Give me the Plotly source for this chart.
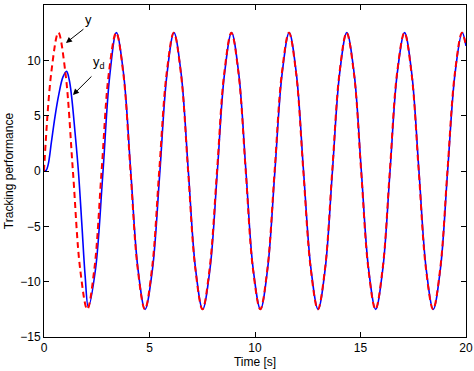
import plotly.graph_objects as go

# Desired trajectory (red dashed)
t_ref = [0.00, 0.34, 0.68, 1.02, 1.37, 1.71, 2.05, 2.39, 2.73, 3.07, 3.42, 3.76,
         4.10, 4.44, 4.78, 5.12, 5.46, 5.81, 6.15, 6.49, 6.83, 7.17, 7.51, 7.85,
         8.20, 8.54, 8.88, 9.22, 9.56, 9.90, 10.25, 10.59, 10.93, 11.27, 11.61, 11.95,
         12.29, 12.64, 12.98, 13.32, 13.66, 14.00, 14.34, 14.69, 15.03, 15.37, 15.71, 16.05,
         16.39, 16.73, 17.08, 17.42, 17.76, 18.10, 18.44, 18.78, 19.12, 19.47, 19.81, 20.00]
y_ref = [0, 8.8, 12.5, 8.8, 0, -8.8, -12.5, -8.8, 0, 8.8, 12.5, 8.8,
         0, -8.8, -12.5, -8.8, 0, 8.8, 12.5, 8.8, 0, -8.8, -12.5, -8.8,
         0, 8.8, 12.5, 8.8, 0, -8.8, -12.5, -8.8, 0, 8.8, 12.5, 8.8,
         0, -8.8, -12.5, -8.8, 0, 8.8, 12.5, 8.8, 0, -8.8, -12.5, -8.8,
         0, 8.8, 12.5, 8.8, 0, -8.8, -12.5, -8.8, 0, 8.8, 12.5, 11.3]

# System output (blue solid)
t_out = [0.00, 0.10, 0.20, 0.35, 0.52, 0.70, 0.90, 1.07, 1.20, 1.31, 1.47, 1.63,
         1.80, 1.95, 2.10, 2.44, 2.78, 3.11, 3.43, 3.77,
         4.11, 4.45, 4.79, 5.14, 5.48, 5.82, 6.16, 6.50, 6.84, 7.18, 7.52, 7.87,
         8.21, 8.55, 8.89, 9.23, 9.57, 9.91, 10.26, 10.60, 10.94, 11.28, 11.62, 11.96,
         12.30, 12.65, 12.99, 13.33, 13.67, 14.01, 14.35, 14.70, 15.04, 15.38, 15.72, 16.06,
         16.40, 16.74, 17.09, 17.43, 17.77, 18.11, 18.45, 18.79, 19.13, 19.48, 19.82, 20.00]
y_out = [0, 0.05, 0.6, 2.6, 4.9, 6.9, 8.5, 9.0, 8.2, 6.7, 3.5, 0,
         -5.0, -9.5, -12.3, -8.9, -0.5, 8.5, 12.5, 8.8,
         0, -8.8, -12.5, -8.9, -0.4, 8.6, 12.5, 8.8, 0, -8.8, -12.5, -8.8,
         -0.2, 8.7, 12.5, 8.8, 0, -8.8, -12.5, -8.8, -0.1, 8.7, 12.5, 8.8,
         0, -8.8, -12.5, -8.8, 0, 8.8, 12.5, 8.8, 0, -8.8, -12.5, -8.8,
         0, 8.8, 12.5, 8.8, 0, -8.8, -12.5, -8.8, 0, 8.8, 12.5, 11.3]

x_ticks = [0, 5, 10, 15, 20]
y_ticks = [-15, -10, -5, 0, 5, 10, 15]

FONT = "Liberation Sans, Arial, sans-serif"

fig = go.Figure()
fig.add_trace(go.Scatter(x=t_out, y=y_out, mode="lines",
                         line=dict(color="#0000ff", width=1.6, shape="spline", smoothing=1.0),
                         showlegend=False))
fig.add_trace(go.Scatter(x=t_ref, y=y_ref, mode="lines",
                         line=dict(color="#ff0000", width=2, dash="6px,4px", shape="spline", smoothing=1.0),
                         showlegend=False))

axis_common = dict(showline=True, linecolor="black", linewidth=1, mirror="ticks",
                   ticks="inside", ticklen=5, tickcolor="black", showgrid=False,
                   zeroline=False, automargin=False,
                   tickfont=dict(family=FONT, size=12, color="black"))

fig.update_xaxes(range=[0, 20], tickvals=x_ticks,
                 title=dict(text="Time [s]", font=dict(family=FONT, size=12, color="black"), standoff=0),
                 **axis_common)
fig.update_yaxes(range=[-15, 15], tickvals=y_ticks,
                 title=dict(text="Tracking performance", font=dict(family=FONT, size=12, color="black"), standoff=4),
                 **axis_common)

# Arrows
fig.add_annotation(x=1.04, y=11.57, ax=1.94, ay=12.92, xref="x", yref="y", axref="x", ayref="y",
                   text="", showarrow=True, arrowhead=2, arrowsize=1.2, arrowwidth=1, arrowcolor="black")
fig.add_annotation(x=1.37, y=6.87, ax=2.32, ay=8.68, xref="x", yref="y", axref="x", ayref="y",
                   text="", showarrow=True, arrowhead=2, arrowsize=1.2, arrowwidth=1, arrowcolor="black")
fig.add_annotation(x=2.09, y=13.7, xref="x", yref="y", text="y", showarrow=False,
                   font=dict(family=FONT, size=13, color="black"))
fig.add_annotation(x=2.62, y=9.8, xref="x", yref="y", text="y<sub>d</sub>", showarrow=False,
                   font=dict(family=FONT, size=13, color="black"))

fig.update_layout(width=474, height=371, margin=dict(l=44, r=8, t=5, b=34, autoexpand=False),
                  paper_bgcolor="white", plot_bgcolor="white",
                  font=dict(family=FONT, size=12, color="black"))

fig.write_html("out.html", config={"displayModeBar": False},
               post_script="document.body.style.margin='0px';document.body.style.padding='0px';"
                           "document.body.style.overflow='hidden';")
